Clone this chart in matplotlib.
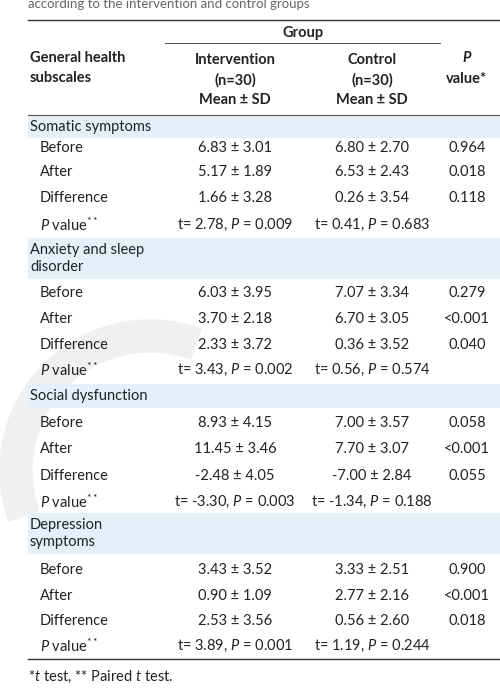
"""
Table: general health subscales, intervention vs control
"""

import matplotlib.pyplot as plt
from matplotlib.patches import Rectangle, Wedge

plt.rcParams['font.family'] = ['Lato', 'DejaVu Sans']
plt.rcParams['mathtext.fontset'] = 'custom'
plt.rcParams['mathtext.rm'] = 'Lato'
plt.rcParams['mathtext.it'] = 'Lato:italic'
plt.rcParams['mathtext.bf'] = 'Lato:bold:italic'

# data -----------------------
sections   = ['Somatic symptoms', 'Anxiety and sleep\ndisorder', 'Social dysfunction', 'Depression\nsymptoms']
row_labels = ['Before', 'After', 'Difference', r'$\it{P}$ value$^{**}$']
interv = [['6.83 ± 3.01', '5.17 ± 1.89', '1.66 ± 3.28', r't= 2.78, $\it{P}$ = 0.009'],
          ['6.03 ± 3.95', '3.70 ± 2.18', '2.33 ± 3.72', r't= 3.43, $\it{P}$ = 0.002'],
          ['8.93 ± 4.15', '11.45 ± 3.46', '-2.48 ± 4.05', r't= -3.30, $\it{P}$ = 0.003'],
          ['3.43 ± 3.52', '0.90 ± 1.09', '2.53 ± 3.56', r't= 3.89, $\it{P}$ = 0.001']]
control = [['6.80 ± 2.70', '6.53 ± 2.43', '0.26 ± 3.54', r't= 0.41, $\it{P}$ = 0.683'],
           ['7.07 ± 3.34', '6.70 ± 3.05', '0.36 ± 3.52', r't= 0.56, $\it{P}$ = 0.574'],
           ['7.00 ± 3.57', '7.70 ± 3.07', '-7.00 ± 2.84', r't= -1.34, $\it{P}$ = 0.188'],
           ['3.33 ± 2.51', '2.77 ± 2.16', '0.56 ± 2.60', r't= 1.19, $\it{P}$ = 0.244']]
pvals = [['0.964', '0.018', '0.118', ''],
         ['0.279', '<0.001', '0.040', ''],
         ['0.058', '<0.001', '0.055', ''],
         ['0.900', '<0.001', '0.018', '']]
# ----------------------------

fs = 10.5
fig = plt.figure(figsize=(5, 6.94), dpi=100)
ax = fig.add_axes([0, 0, 1, 1])
ax.set_xlim(0, 500)
ax.set_ylim(694, 0)
ax.axis('off')

# faint watermark arc
ax.add_patch(Wedge((150, 470), 150, 160, 290, width=32, color='#f0f0f0', zorder=0))

x_lab, x_item, x_int, x_con, x_p = 30, 40, 235, 372, 467
col = '#222222'

ax.text(28, 4, 'according to the intervention and control groups', fontsize=fs - 1, color='#666666', va='center')
ax.plot([28, 500], [20, 20], color='#333333', lw=1.0)
ax.text((x_int + x_con) / 2, 33, 'Group', fontsize=fs, weight='bold', ha='center', va='center', color=col)
ax.plot([165, 440], [43, 43], color='#555555', lw=0.7)
ax.text(x_lab, 68, 'General health\nsubscales', fontsize=fs, weight='bold', va='center', color=col, linespacing=1.55)
ax.text(x_int, 80, 'Intervention\n(n=30)\nMean ± SD', fontsize=fs, weight='bold', ha='center', va='center', color=col, linespacing=1.55)
ax.text(x_con, 80, 'Control\n(n=30)\nMean ± SD', fontsize=fs, weight='bold', ha='center', va='center', color=col, linespacing=1.55)
ax.text(x_p, 68, r'$\mathbf{P}$' + '\nvalue*', fontsize=fs, weight='bold', ha='center', va='center', color=col, linespacing=1.55)
ax.plot([28, 500], [115, 115], color='#555555', lw=0.8)

band_top = [115, 238, 384, 513]
band_h   = [23, 41, 24, 41]
row_y    = [[148, 172, 198, 225], [293, 319, 345, 370],
            [423, 449, 476, 502], [570, 596, 621, 646]]

for i, sec in enumerate(sections):
    ax.add_patch(Rectangle((28, band_top[i]), 472, band_h[i], color='#e5eff9', lw=0, zorder=1))
    ax.text(x_lab, band_top[i] + band_h[i] / 2, sec, fontsize=fs, va='center', color=col, linespacing=1.3, zorder=2)
    for j, lab in enumerate(row_labels):
        y = row_y[i][j]
        ax.text(x_item, y, lab, fontsize=fs, va='center', color=col)
        ax.text(x_int, y, interv[i][j], fontsize=fs, ha='center', va='center', color=col)
        ax.text(x_con, y, control[i][j], fontsize=fs, ha='center', va='center', color=col)
        ax.text(x_p, y, pvals[i][j], fontsize=fs, ha='center', va='center', color=col)

ax.plot([28, 500], [659, 659], color='#333333', lw=1.0)
ax.text(28, 677, r'*$\it{t}$ test, ** Paired $\it{t}$ test.', fontsize=fs, va='center', color=col)

plt.savefig('out.png', dpi=100)
